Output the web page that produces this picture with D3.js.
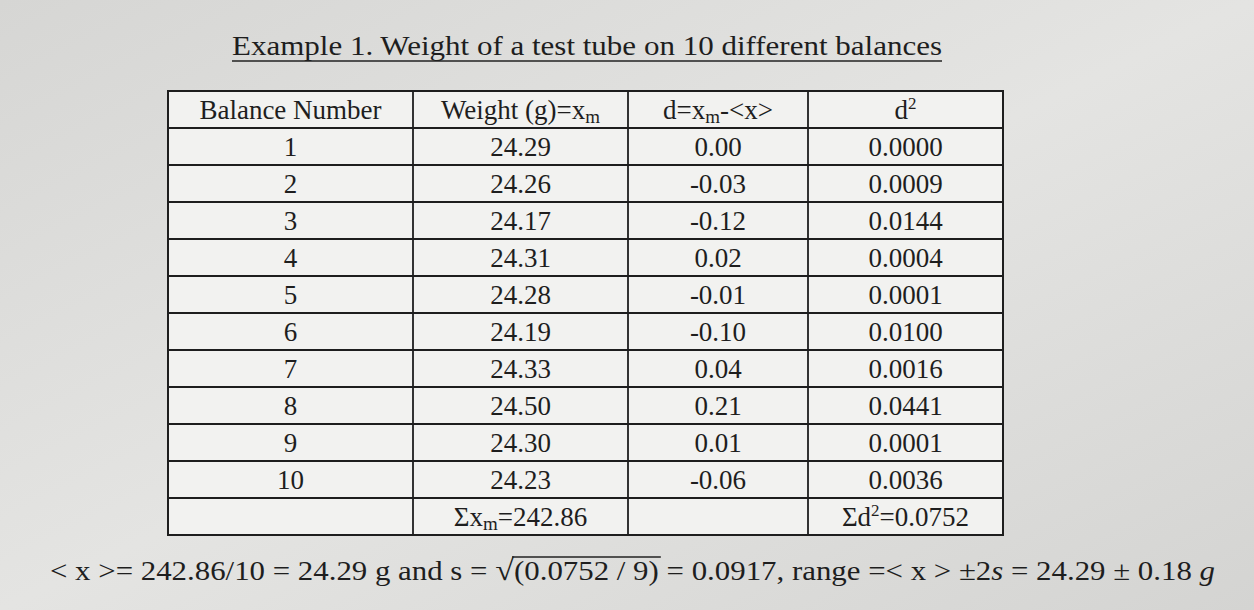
<!DOCTYPE html>
<html><head><meta charset="utf-8">
<script src="https://cdn.jsdelivr.net/npm/d3@7"></script>
<style>
body{margin:0;background:#d9d9d7;}
text{font-family:"Liberation Serif","DejaVu Serif",serif;fill:#1e1e1e;}
</style></head><body>
<svg id="main" width="1254" height="610"></svg>
<script>
// table data
const balances = ["1","2","3","4","5","6","7","8","9","10"];
const weights = ["24.29","24.26","24.17","24.31","24.28","24.19","24.33","24.50","24.30","24.23"];
const devs = ["0.00","-0.03","-0.12","0.02","-0.01","-0.10","0.04","0.21","0.01","-0.06"];
const dsq = ["0.0000","0.0009","0.0144","0.0004","0.0001","0.0100","0.0016","0.0441","0.0001","0.0036"];
const headers = ["Balance Number","Weight (g)=x_m","d=x_m-<x>","d^2"];
const totals = ["","Σx_m=242.86","","Σd^2=0.0752"];

const svg = d3.select("#main");
const bg = svg.append("defs").append("linearGradient").attr("id","bg").attr("x1",0).attr("x2",1).attr("y1",0).attr("y2",1);
bg.append("stop").attr("offset",0).attr("stop-color","#d6d6d4");
bg.append("stop").attr("offset",0.5).attr("stop-color","#e4e4e2");
bg.append("stop").attr("offset",1).attr("stop-color","#d4d4d2");
svg.append("rect").attr("width",1254).attr("height",610).attr("fill","url(#bg)");

// title
svg.append("text").attr("x",232).attr("y",55).attr("textLength",710).attr("lengthAdjust","spacingAndGlyphs")
  .attr("font-size",27).text("Example 1.  Weight of a test tube on 10 different balances");
svg.append("line").attr("x1",232).attr("x2",942).attr("y1",61).attr("y2",61).attr("stroke","#222").attr("stroke-width",1.6);

const colEdges = [168,413,628,808,1003];
const rowKeys = ["h"].concat(balances).concat(["t"]);
const y = d3.scaleBand().domain(rowKeys).range([91,535]);
const rows = [headers].concat(balances.map((b,i)=>[b,weights[i],devs[i],dsq[i]])).concat([totals]);

const g = svg.append("g");
g.append("rect").attr("x",colEdges[0]).attr("y",y.range()[0]).attr("width",colEdges[4]-colEdges[0])
  .attr("height",y.range()[1]-y.range()[0]).attr("fill","#f2f2f0").attr("stroke","#1e1e1e").attr("stroke-width",2);
rowKeys.slice(1).forEach(k=>{
  g.append("line").attr("x1",colEdges[0]).attr("x2",colEdges[4]).attr("y1",y(k)).attr("y2",y(k))
    .attr("stroke","#1e1e1e").attr("stroke-width",1.8);
});
colEdges.slice(1,4).forEach(x=>{
  g.append("line").attr("x1",x).attr("x2",x).attr("y1",y.range()[0]).attr("y2",y.range()[1])
    .attr("stroke","#1e1e1e").attr("stroke-width",1.8);
});

function fill(t, s){
  const parts = s.split(/(_m|\^2)/);
  let last = null;
  parts.forEach(p=>{
    if(p==="_m") t.append("tspan").attr("font-size",19).attr("dy",4).text("m");
    else if(p==="^2") t.append("tspan").attr("font-size",17).attr("dy",-10).text("2");
    else if(p){
      const sp = t.append("tspan").text(p);
      if(last==="_m") sp.attr("dy",-4);
      if(last==="^2") sp.attr("dy",10);
    }
    last = p;
  });
}
rows.forEach((r,ri)=>{
  r.forEach((c,ci)=>{
    if(!c) return;
    const t = g.append("text").attr("x",(colEdges[ci]+colEdges[ci+1])/2)
      .attr("y",y(rowKeys[ri])+y.bandwidth()/2+9).attr("text-anchor","middle").attr("font-size",27);
    fill(t,c);
  });
});

// formula line
const f = svg.append("text").attr("x",50).attr("y",580).attr("font-size",27)
  .attr("textLength",1165).attr("lengthAdjust","spacingAndGlyphs");
f.append("tspan").text("< x >= 242.86/10 = 24.29 g and s = ");
f.append("tspan").text("\u221A").attr("font-size",30);
const inner = f.append("tspan").text("(0.0752 / 9)");
f.append("tspan").text(" = 0.0917, range =< x > \u00B12");
f.append("tspan").attr("font-style","italic").text("s");
f.append("tspan").text(" = 24.29 \u00B1 0.18 ");
f.append("tspan").attr("font-style","italic").text("g");
const fb = inner.node().getBBox();
svg.append("line").attr("x1",fb.x-2).attr("x2",fb.x+fb.width+2).attr("y1",fb.y+1).attr("y2",fb.y+1)
  .attr("stroke","#222").attr("stroke-width",1.5);
</script>
</body></html>
